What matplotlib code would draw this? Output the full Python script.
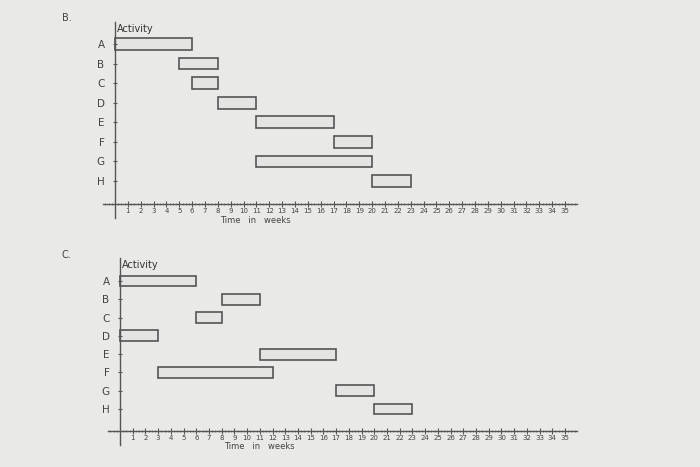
import matplotlib
matplotlib.use("Agg")
import matplotlib.pyplot as plt
from matplotlib.ticker import MultipleLocator

activities = ["A", "B", "C", "D", "E", "F", "G", "H"]
start_b = [0, 5, 6, 8, 11, 17, 11, 20]
end_b = [6, 8, 8, 11, 17, 20, 20, 23]
start_c = [0, 8, 6, 0, 11, 3, 17, 20]
end_c = [6, 11, 8, 3, 17, 12, 20, 23]
xticks = list(range(1, 36))

W, H = 700, 467
fig = plt.figure(figsize=(7, 4.67), dpi=100)
fig.patch.set_facecolor("#e9e9e7")

def panel(top, axis_y, bottom, row_a, row_h, x0px, x35px, starts, ends):
    ppu = (x35px - x0px) / 35.0
    left_px, right_px = x0px - 12, x35px + 12
    ax = fig.add_axes([left_px / W, 1 - bottom / H, (right_px - left_px) / W, (bottom - top) / H])
    ax.set_facecolor("none")
    sp = (row_h - row_a) / 7.0
    ax.set_ylim(7 + (bottom - row_h) / sp, -(row_a - top) / sp)
    ax.set_xlim(-(x0px - left_px) / ppu, 35 + (right_px - x35px) / ppu)
    for s in ["top", "right"]:
        ax.spines[s].set_visible(False)
    ax.spines["left"].set_position(("data", 0))
    ax.spines["bottom"].set_position(("data", 7 + (axis_y - row_h) / sp))
    for s in ["left", "bottom"]:
        ax.spines[s].set_color("#555555")
        ax.spines[s].set_linewidth(1)
    for i, a in enumerate(activities):
        ax.barh(i, ends[i] - starts[i], left=starts[i], height=0.6,
                facecolor="#e4e4e2", edgecolor="#555555", linewidth=1.2)
    ax.set_yticks(range(8))
    ax.set_yticklabels(activities, fontsize=7.5, color="#444444")
    ax.set_xticks(xticks)
    ax.set_xticklabels([str(t) for t in xticks], fontsize=5, color="#444444")
    ax.xaxis.set_minor_locator(MultipleLocator(0.25))
    ax.tick_params(axis="x", which="major", direction="inout", length=4, pad=1, color="#555555")
    ax.tick_params(axis="x", which="minor", direction="inout", length=2, color="#777777")
    ax.tick_params(axis="y", direction="inout", length=3, pad=6, color="#555555")
    ax.text(0.15, -(row_a - top) / sp + 0.1, "Activity", fontsize=7, va="top", color="#333333")
    ax.text(8.2, ax.spines["bottom"].get_position()[1] + 0.85, "Time   in   weeks",
            fontsize=6, color="#444444", va="center")
    return ax

panel(22, 204, 218, 44, 181, 115, 565, start_b, end_b)
panel(258, 431, 445, 281, 409, 120, 565, start_c, end_c)

fig.text(62 / W, 1 - 18 / H, "B.", fontsize=7, color="#444444", va="center")
fig.text(62 / W, 1 - 255 / H, "C.", fontsize=7, color="#444444", va="center")

fig.savefig("out.png", dpi=100, facecolor=fig.get_facecolor())
